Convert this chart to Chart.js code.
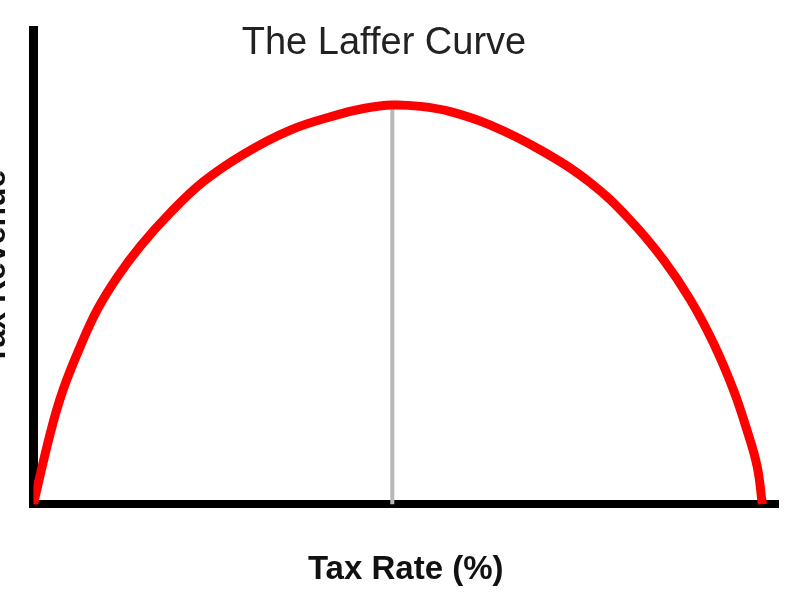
<!DOCTYPE html>
<html>
<head>
  <meta charset="UTF-8">
  <title>The Laffer Curve</title>
  <script src="https://cdn.jsdelivr.net/npm/chart.js@4.4.1/dist/chart.umd.min.js"></script>
  <style>
    html, body { margin: 0; padding: 0; background: #fff; overflow: hidden; }
    /* shifted left so the y-axis title gets cut at the page edge, like the original */
    #wrap { position: absolute; left: -23px; top: 0; width: 823px; height: 600px; }
  </style>
</head>
<body>
<div id="wrap"><canvas id="myChart"></canvas></div>
<script>
  // values: tax rate (%) vs. revenue (relative)
  var taxRate = [0, 2.3, 4.0, 6.3, 8.6, 11.3, 14.4, 18.4, 22.8, 28.2, 34.5, 40.8, 44.5, 48.2,
                 52.0, 56.0, 61.3, 68.1, 74.8, 80.1, 84.6, 88.2, 91.3, 94.0, 95.8, 97.2, 97.9];
  var revenue = [0, 15.2, 24.2, 33.3, 41.1, 48.0, 54.5, 61.5, 68.0, 73.8, 78.9, 82.1, 83.5, 84.2,
                 83.9, 82.8, 80.0, 74.7, 67.8, 60.0, 51.6, 43.2, 34.1, 24.2, 15.8, 8.0, 0];
  var peakRate = 48.2;
  var peakRevenue = 84.2;

  var titleText = "The Laffer Curve";
  var xTitle = "Tax Rate (%)";
  var yTitle = "Tax Revenue";

  function pts(xs, ys) {
    var out = [];
    for (var i = 0; i < xs.length; i++) out.push({ x: xs[i], y: ys[i] });
    return out;
  }

  // title sits inside the plot area, so draw it ourselves
  var innerTitle = {
    id: "innerTitle",
    afterDraw: function(chart) {
      var ctx = chart.ctx;
      ctx.save();
      ctx.font = "38px 'Liberation Sans', Arial, sans-serif";
      ctx.fillStyle = "#222";
      ctx.textAlign = "center";
      ctx.textBaseline = "alphabetic";
      ctx.fillText(titleText, 384 + 23, 54);
      ctx.restore();
    }
  };

  new Chart(document.getElementById("myChart"), {
    type: "line",
    data: {
      datasets: [{
        data: pts(taxRate, revenue),
        borderColor: "#ff0000",
        borderWidth: 9,
        pointRadius: 0,
        tension: 0.4,
        fill: false
      }, {
        data: pts([peakRate, peakRate], [0, peakRevenue]),
        borderColor: "#b8b8b8",
        borderWidth: 4,
        pointRadius: 0,
        fill: false
      }]
    },
    options: {
      responsive: true,
      maintainAspectRatio: false,
      animation: false,
      layout: { padding: { top: 30, right: 22, left: 0, bottom: 0 } },
      plugins: {
        legend: { display: false },
        tooltip: { enabled: false }
      },
      scales: {
        x: {
          type: "linear",
          min: 0, max: 100,
          grid: { display: false },
          ticks: { display: false },
          border: { color: "#000", width: 8 },
          title: {
            display: true,
            text: xTitle,
            color: "#111",
            font: { family: "'Liberation Sans', Arial, sans-serif", size: 33, weight: "bold" },
            padding: { top: 38, bottom: 10 }
          }
        },
        y: {
          type: "linear",
          min: 0, max: 100,
          grid: { display: false },
          ticks: { display: false },
          border: { color: "#000", width: 9 },
          title: {
            display: true,
            text: yTitle,
            color: "#111",
            font: { family: "'Liberation Sans', Arial, sans-serif", size: 32, weight: "bold" },
            padding: { top: 0, bottom: 10 }
          }
        }
      }
    },
    plugins: [innerTitle]
  });
</script>
</body>
</html>
